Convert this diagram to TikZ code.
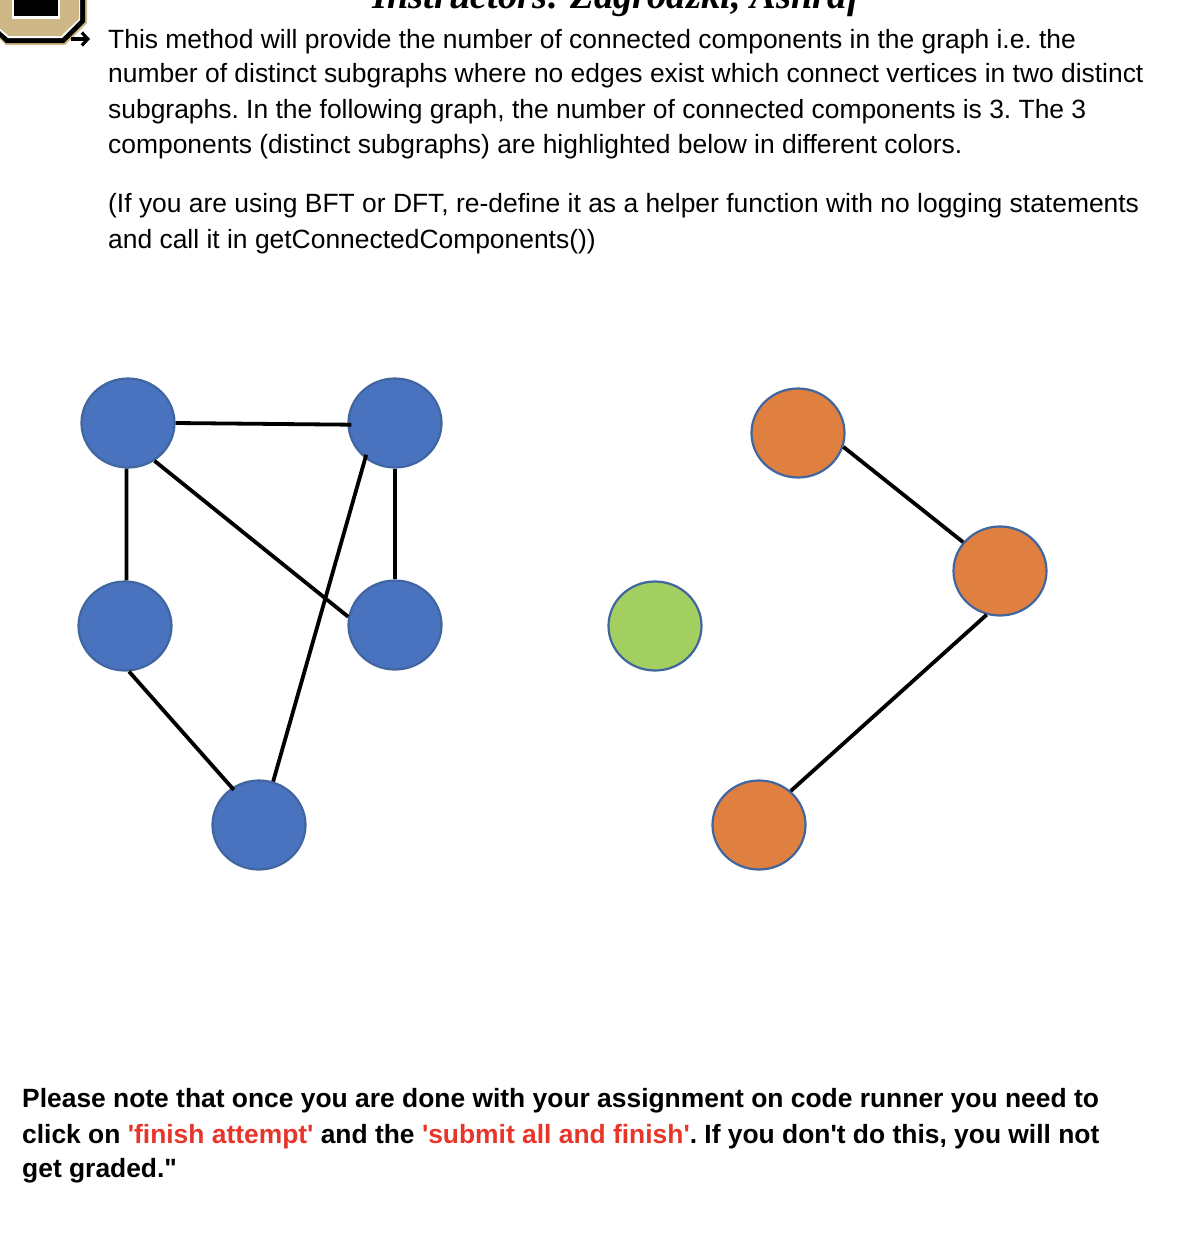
\documentclass[tikz,border=0pt]{standalone}
\usepackage{fontspec}
\setmainfont{Liberation Sans}
\newfontfamily\headfont{Liberation Serif}
\usepackage{xcolor}
\usetikzlibrary{arrows.meta,shapes.geometric}
\definecolor{vblue}{HTML}{4973BF}
\definecolor{vorange}{HTML}{DF8040}
\definecolor{vgreen}{HTML}{A2CF5F}
\definecolor{vline}{HTML}{41659F}
\definecolor{logotan}{HTML}{CEB888}
\definecolor{notered}{HTML}{E8352A}
\tikzset{%
      vertex/.style = { ellipse, draw=vline, line width=2.2pt, inner sep=0pt, minimum width=93pt, minimum height=89pt },
        blue/.style = { vertex, fill=vblue },
      orange/.style = { vertex, fill=vorange },
       green/.style = { vertex, fill=vgreen },
        link/.style = { black, line width=3.8pt },
        body/.style = { anchor=base west, inner sep=0pt, font=\fontsize{26.42}{32}\selectfont },
        note/.style = { body, font=\fontsize{26.4}{32}\selectfont\bfseries }
}
\begin{document}
\frenchspacing
\begin{tikzpicture}[x=1pt,y=-1pt]
\useasboundingbox (0,0) rectangle (1182,1248);
% logo in the corner
\begin{scope}
  \clip (0,0) rectangle (1182,1248);
  \fill [logotan] (-8,-5) -- (87,-5) -- (87,23) -- (65,45) -- (6,45) -- (-8,31) -- cycle;
  \fill [black] (-8,-5) -- (85,-5) -- (85,22) -- (64,43) -- (6,43) -- (-8,29) -- cycle;
  \fill [white] (-8,-5) -- (80,-5) -- (80,20) -- (62,38) -- (8,38) -- (-8,24) -- cycle;
  \fill [logotan] (-8,-5) -- (79,-5) -- (79,19) -- (61,36) -- (9,36) -- (-8,22) -- cycle;
  \fill [white] (12,-5) rectangle (60,19);
  \fill [black] (14,-5) rectangle (58,16);
\end{scope}
\coordinate (tailA) at (71,39);
\coordinate (tipA) at (90,39);
\draw [-{Straight Barb[length=6pt,width=13pt]},line width=3.2pt] (tailA) -- (tipA);
% heading, cut by the page
\node [anchor=base,inner sep=0pt,font=\headfont\fontsize{38.6}{40}\selectfont\bfseries\itshape] (head) at (616,8) {Instructors: Zagrodzki, Ashraf};
% text above the graph
\node [body] (l1) at (108,48) {This method will provide the number of connected components in the graph i.e. the};
\node [body] (l2) at (108,82) {number of distinct subgraphs where no edges exist which connect vertices in two distinct};
\node [body] (l3) at (108,118) {subgraphs. In the following graph, the number of connected components is 3. The 3};
\node [body] (l4) at (108,153) {components (distinct subgraphs) are highlighted below in different colors.};
\node [body] (l5) at (108,212) {(If you are using BFT or DFT, re-define it as a helper function with no logging statements};
\node [body] (l6) at (108,248) {and call it in getConnectedComponents())};
% vertices
\node [blue] (a) at (128,423) {};
\node [blue] (b) at (395,423) {};
\node [blue] (c) at (125,626) {};
\node [blue] (d) at (395,625) {};
\node [blue] (e) at (259,825) {};
\node [green] (g) at (655,626) {};
\node [orange] (p) at (798,433) {};
\node [orange] (q) at (1000,571) {};
\node [orange] (r) at (759,825) {};
% edges
\draw [link,shorten >=-4pt] (a.east) -- (b.182);
\draw [link] (a.268) -- (c.88);
\draw [link] (a.305) -- (d.170);
\draw [link] (b.south) -- (d.north);
\draw [link,shorten >=-4pt] (e.72) -- (b.230);
\draw [link,shorten >=-3pt] (c.275) -- (e.126);
\draw [link] (p.-17) -- (q.142);
\draw [link] (q.-107) -- (r.47);
% note at the bottom
\node [note] (n1) at (22,1107) {Please note that once you are done with your assignment on code runner you need to};
\node [note] (n2) at (22,1143) {click on \textcolor{notered}{\textquotesingle finish attempt\textquotesingle} and the \textcolor{notered}{\textquotesingle submit all and finish\textquotesingle}. If you don\textquotesingle t do this, you will not};
\node [note] (n3) at (22,1177) {get graded.\textquotedbl};
\end{tikzpicture}
\end{document}
